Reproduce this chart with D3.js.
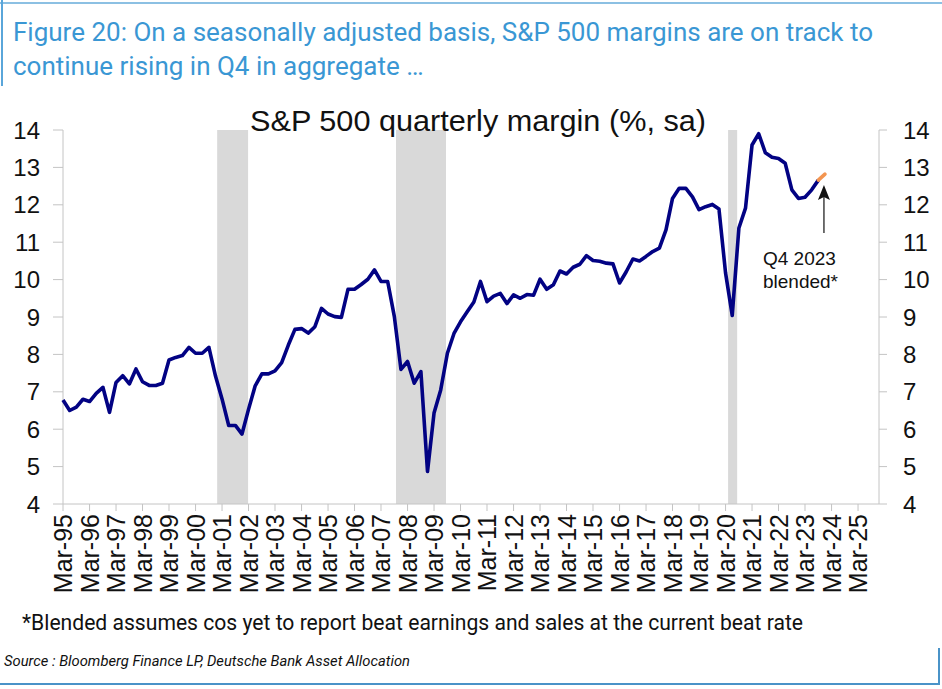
<!DOCTYPE html>
<html lang="en">
<head>
  <meta charset="UTF-8">
  <title>S&amp;P 500 quarterly margin</title>
  <style>
    body { margin: 0; background: #fff; }
    svg text { font-family: "Liberation Sans", Arial, sans-serif; fill: #111; }
    .fig-title { font-family: Roboto, sans-serif; font-size: 26px; fill: #3a97d4; }
    .note { font-family: Roboto, sans-serif; font-size: 22px; }
    .source { font-family: Roboto, sans-serif; font-size: 14px; font-style: italic; }
    .axis-line { stroke: #c4c4c4; stroke-width: 1; }
  </style>
</head>
<body>
  <script src="https://d3js.org/d3.v7.min.js"></script>
  <script>
    // quarterly margin, % sa — Mar-95 .. Sep-23
    const margins = [
      6.78, 6.50, 6.59, 6.80,    // 1995
      6.74, 6.96, 7.12, 6.45,    // 1996
      7.25, 7.43, 7.21, 7.61,    // 1997
      7.27, 7.17, 7.17, 7.23,    // 1998
      7.85, 7.92, 7.97, 8.19,    // 1999
      8.03, 8.03, 8.19, 7.42,    // 2000
      6.81, 6.10, 6.10, 5.87,    // 2001
      6.53, 7.16, 7.48, 7.48,    // 2002
      7.56, 7.78, 8.25, 8.67,    // 2003
      8.69, 8.57, 8.74, 9.23,    // 2004
      9.08, 9.01, 8.99, 9.74,    // 2005
      9.74, 9.87, 10.01, 10.26,  // 2006
      9.95, 9.95, 9.01, 7.60,    // 2007
      7.81, 7.23, 7.54, 4.87,    // 2008
      6.43, 7.05, 8.03, 8.56,    // 2009
      8.87, 9.14, 9.40, 9.95,    // 2010
      9.41, 9.56, 9.63, 9.36,    // 2011
      9.59, 9.50, 9.60, 9.58,    // 2012
      10.01, 9.74, 9.86, 10.23,  // 2013
      10.15, 10.33, 10.41, 10.64, // 2014
      10.51, 10.49, 10.44, 10.42, // 2015
      9.91, 10.21, 10.55, 10.50, // 2016
      10.62, 10.75, 10.84, 11.33, // 2017
      12.17, 12.44, 12.44, 12.21, // 2018
      11.87, 11.95, 12.01, 11.89, // 2019
      10.18, 9.04, 11.38, 11.91, // 2020
      13.60, 13.90, 13.39, 13.27, // 2021
      13.24, 13.11, 12.40, 12.17, // 2022
      12.20, 12.40, 12.66        // 2023
    ];
    // Q3 2023 actual -> Q4 2023 blended
    const blended = [12.66, 12.82];

    // shaded recession periods
    const recessions = [
      ["2000-12-24", "2002-02-23"],
      ["2007-09-24", "2009-08-13"],
      ["2020-04-05", "2020-08-08"]
    ];

    const yTicks = [4, 5, 6, 7, 8, 9, 10, 11, 12, 13, 14];
    const tickYears = d3.range(1995, 2026);

    const titleLines = [
      "Figure 20: On a seasonally adjusted basis, S&P 500 margins are on track to",
      "continue rising in Q4 in aggregate \u2026"
    ];
    const chartTitle = "S&P 500 quarterly margin (%, sa)";
    const footnote = "*Blended assumes cos yet to report beat earnings and sales at the current beat rate";
    const sourceText = "Source : Bloomberg Finance LP, Deutsche Bank Asset Allocation";
    const annotation = ["Q4 2023", "blended*"];

    const W = 942, H = 689;
    const plot = {left: 63, right: 879, top: 130, bottom: 504};

    const svg = d3.select("body").append("svg")
      .attr("width", W)
      .attr("height", H);

    const first = new Date(1995, 2, 1);
    const qDate = i => d3.timeMonth.offset(first, 3 * i);

    const x = d3.scaleTime()
      .domain([first, new Date(2025, 11, 15)])
      .range([plot.left, plot.right]);
    const y = d3.scaleLinear()
      .domain([4, 14])
      .range([plot.bottom, plot.top]);

    // frame lines
    svg.append("line").attr("x1", 0).attr("x2", W).attr("y1", 3).attr("y2", 3)
      .attr("stroke", "#8cc0e3").attr("stroke-width", 2);
    svg.append("line").attr("x1", 2).attr("x2", 2).attr("y1", 0).attr("y2", 86)
      .attr("stroke", "#5aa6da").attr("stroke-width", 2);
    svg.append("line").attr("x1", 0).attr("x2", 940).attr("y1", 684).attr("y2", 684)
      .attr("stroke", "#4a93c8").attr("stroke-width", 2);
    svg.append("line").attr("x1", 939).attr("x2", 939).attr("y1", 648).attr("y2", 685)
      .attr("stroke", "#4a93c8").attr("stroke-width", 2);

    // figure title: squeeze to match the condensed face
    const tl = svg.append("g");
    const t1 = tl.append("text").attr("class", "fig-title").attr("x", 13).attr("y", 41).text(titleLines[0]);
    const t2 = tl.append("text").attr("class", "fig-title").attr("x", 13).attr("y", 75).text(titleLines[1]);
    const ratio = 860 / t1.node().getComputedTextLength();
    t1.attr("textLength", 860).attr("lengthAdjust", "spacingAndGlyphs");
    t2.attr("textLength", t2.node().getComputedTextLength() * ratio).attr("lengthAdjust", "spacingAndGlyphs");

    // recession shading
    svg.append("g").selectAll("rect")
      .data(recessions)
      .join("rect")
        .attr("x", d => x(new Date(d[0])))
        .attr("width", d => x(new Date(d[1])) - x(new Date(d[0])))
        .attr("y", plot.top)
        .attr("height", plot.bottom - plot.top)
        .attr("fill", "#d9d9d9");

    // chart title
    svg.append("text")
      .attr("x", 478).attr("y", 131)
      .attr("text-anchor", "middle")
      .attr("font-size", 29)
      .attr("textLength", 456).attr("lengthAdjust", "spacingAndGlyphs")
      .text(chartTitle);

    // axes
    const axes = svg.append("g");
    axes.append("line").attr("class", "axis-line")
      .attr("x1", plot.left).attr("x2", plot.left).attr("y1", plot.top).attr("y2", plot.bottom);
    axes.append("line").attr("class", "axis-line")
      .attr("x1", plot.right).attr("x2", plot.right).attr("y1", plot.top).attr("y2", plot.bottom);
    axes.append("line").attr("class", "axis-line")
      .attr("x1", plot.left).attr("x2", plot.right).attr("y1", plot.bottom).attr("y2", plot.bottom);

    axes.selectAll(".ytl").data(yTicks).join("line").attr("class", "axis-line ytl")
      .attr("x1", plot.left - 10).attr("x2", plot.left)
      .attr("y1", d => y(d)).attr("y2", d => y(d));
    axes.selectAll(".ytr").data(yTicks).join("line").attr("class", "axis-line ytr")
      .attr("x1", plot.right).attr("x2", plot.right + 8)
      .attr("y1", d => y(d)).attr("y2", d => y(d));
    axes.selectAll(".yll").data(yTicks).join("text").attr("class", "yll")
      .attr("x", 40).attr("y", d => y(d)).attr("dy", "0.36em")
      .attr("text-anchor", "end").attr("font-size", 24)
      .text(d => d);
    axes.selectAll(".ylr").data(yTicks).join("text").attr("class", "ylr")
      .attr("x", 903).attr("y", d => y(d)).attr("dy", "0.36em")
      .attr("text-anchor", "start").attr("font-size", 24)
      .text(d => d);

    const fmt = d3.timeFormat("%b-%y");
    const xDates = tickYears.map(yr => new Date(yr, 2, 1));
    axes.selectAll(".xt").data(xDates).join("line").attr("class", "axis-line xt")
      .attr("x1", d => x(d)).attr("x2", d => x(d))
      .attr("y1", plot.bottom).attr("y2", plot.bottom + 7);
    axes.selectAll(".xl").data(xDates).join("text").attr("class", "xl")
      .attr("transform", d => `translate(${x(d) + 9},${plot.bottom + 10}) rotate(-90)`)
      .attr("text-anchor", "end")
      .attr("font-size", 25)
      .text(d => fmt(d));

    // series
    const line = d3.line()
      .x(d => x(d.date))
      .y(d => y(d.value));

    const mainData = margins.map((v, i) => ({date: qDate(i), value: v}));
    const blendData = blended.map((v, i) => ({date: qDate(margins.length - 1 + i), value: v}));

    svg.append("path")
      .datum(mainData)
      .attr("fill", "none")
      .attr("stroke", "#020283")
      .attr("stroke-width", 3.6)
      .attr("stroke-linejoin", "round")
      .attr("d", line);

    svg.append("path")
      .datum(blendData)
      .attr("fill", "none")
      .attr("stroke", "#f39550")
      .attr("stroke-width", 3.6)
      .attr("stroke-linecap", "round")
      .attr("d", line);

    // annotation arrow
    const tipX = x(qDate(margins.length)) - 1;
    svg.append("line")
      .attr("x1", tipX).attr("x2", tipX)
      .attr("y1", 233).attr("y2", 196)
      .attr("stroke", "#111").attr("stroke-width", 1.2);
    svg.append("polygon")
      .attr("points", `${tipX},185 ${tipX - 6},200 ${tipX},197 ${tipX + 6},200`)
      .attr("fill", "#111");

    svg.selectAll(".ann").data(annotation).join("text").attr("class", "ann")
      .attr("x", 763).attr("y", (d, i) => 265 + i * 23)
      .attr("font-size", 19)
      .text(d => d);

    // footnote and source
    svg.append("text").attr("class", "note")
      .attr("x", 22).attr("y", 630)
      .attr("textLength", 781).attr("lengthAdjust", "spacingAndGlyphs")
      .text(footnote);
    svg.append("text").attr("class", "source")
      .attr("x", 4).attr("y", 666)
      .attr("textLength", 406).attr("lengthAdjust", "spacingAndGlyphs")
      .text(sourceText);
  </script>
</body>
</html>
